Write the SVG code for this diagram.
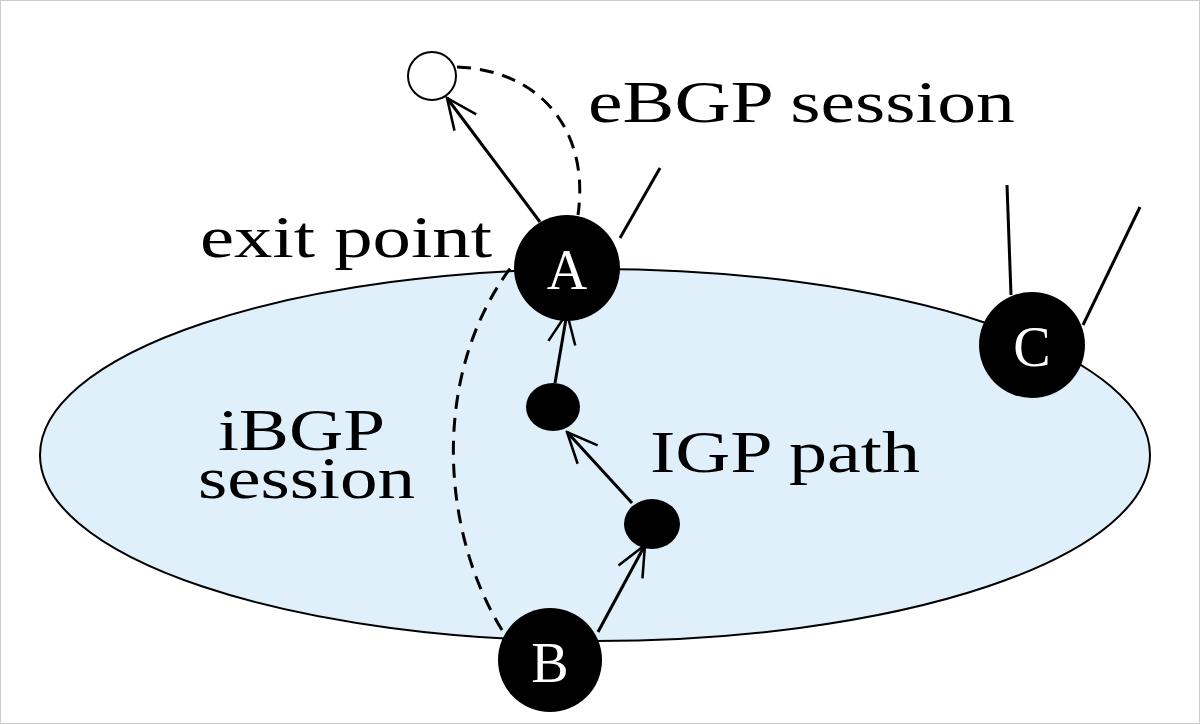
<svg xmlns="http://www.w3.org/2000/svg" width="1200" height="724" viewBox="0 0 1200 724">
<defs>
<style>
.t{font-family:"Liberation Serif",serif;font-size:60px;fill:#000}
.n{font-family:"Liberation Serif",serif;font-size:56px;fill:#fff;text-anchor:middle}
.l{stroke:#000;stroke-width:3;fill:none}
.d{stroke:#000;stroke-width:3;fill:none;stroke-dasharray:14,9}
</style>
<marker id="ar2" viewBox="0 0 40 40" refX="38" refY="20" markerWidth="34" markerHeight="34" markerUnits="userSpaceOnUse" orient="auto">
<path d="M2,4 L38,20 L2,36" fill="none" stroke="#000" stroke-width="3"/>
</marker>
</defs>
<rect x="0.5" y="0.5" width="1199" height="723" fill="#fff" stroke="#ccc"/>
<g id="as"><ellipse cx="595" cy="455" rx="555" ry="186" fill="#dff0fb" stroke="#000" stroke-width="2"/></g>
<g id="connectors">
<line class="l" x1="540" y1="222" x2="447" y2="98" marker-end="url(#ar2)"/>
<path class="d" d="M457,67 C540,70 590,130 578,215"/>
<line class="l" x1="620" y1="238" x2="660" y2="168"/>
<line class="l" x1="1007" y1="185" x2="1011" y2="295"/>
<line class="l" x1="1083" y1="325" x2="1140" y2="207"/>
<line class="l" x1="598" y1="632" x2="645" y2="545" marker-end="url(#ar2)"/>
<line class="l" x1="632" y1="503" x2="567" y2="432" marker-end="url(#ar2)"/>
<line class="l" x1="555" y1="383" x2="567" y2="313" marker-end="url(#ar2)"/>
<path class="d" d="M502,630 C440,530 430,370 515,262"/>
</g>
<g id="ext"><circle cx="432" cy="76" r="24" fill="#fff" stroke="#000" stroke-width="2"/></g>
<g id="A"><circle cx="567" cy="268" r="53" fill="#000"/><text class="n" x="567" y="289">A</text></g>
<g id="B"><circle cx="550" cy="660" r="52" fill="#000"/><text class="n" x="550" y="682">B</text></g>
<g id="C"><circle cx="1032" cy="345" r="53" fill="#000"/><text class="n" x="1032" y="366">C</text></g>
<g id="r1"><ellipse cx="553" cy="407" rx="27" ry="24" fill="#000"/></g>
<g id="r2"><ellipse cx="652" cy="524" rx="28" ry="25" fill="#000"/></g>
<g id="labels">
<text class="t" x="588" y="122" textLength="427" lengthAdjust="spacingAndGlyphs">eBGP session</text>
<text class="t" x="200" y="257" textLength="292" lengthAdjust="spacingAndGlyphs">exit point</text>
<text class="t" x="218" y="450" textLength="167" lengthAdjust="spacingAndGlyphs">iBGP</text>
<text class="t" x="198" y="498" textLength="217" lengthAdjust="spacingAndGlyphs">session</text>
<text class="t" x="650" y="472" textLength="270" lengthAdjust="spacingAndGlyphs">IGP path</text>
</g>
</svg>
